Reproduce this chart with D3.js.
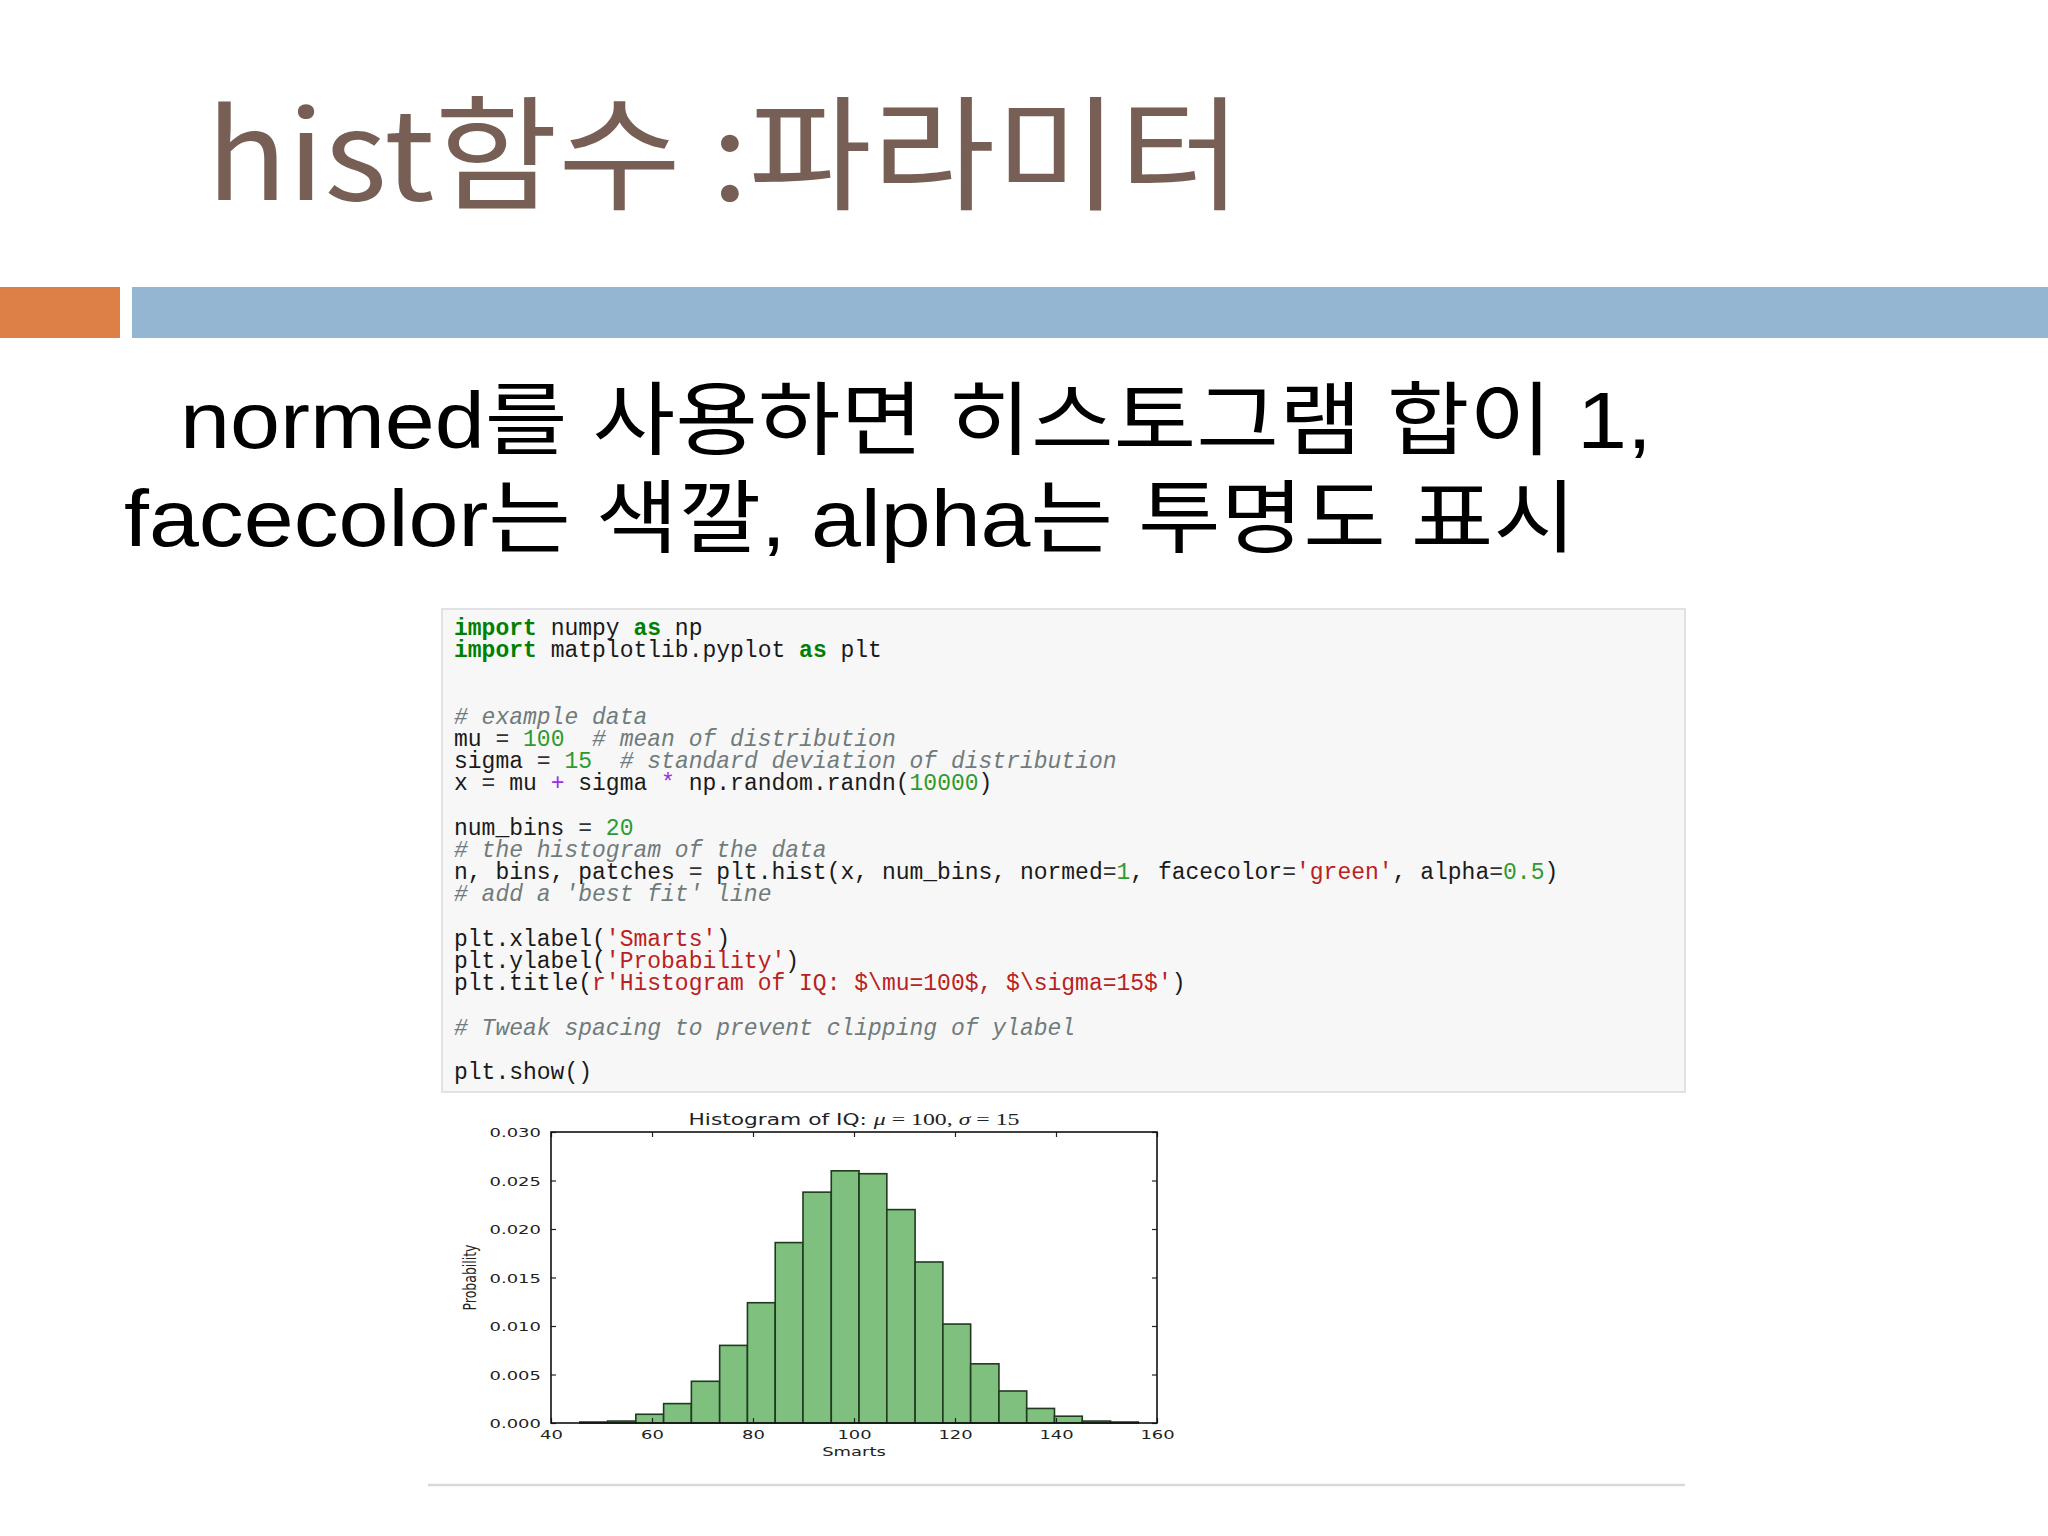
<!DOCTYPE html>
<html>
<head>
<meta charset="utf-8">
<script src="https://cdn.jsdelivr.net/npm/d3@7"></script>
<style>
  body { margin: 0; background: #ffffff; }
  svg { display: block; }
  .code text { font-family: "Liberation Mono", "DejaVu Sans Mono", monospace; font-size: 23px; white-space: pre; }
</style>
</head>
<body>
<div id="chart"></div>
<script>
// # Chart data.
const binEdges = [45.7, 51.2, 56.8, 62.3, 67.8, 73.4, 78.9, 84.4, 89.9, 95.5, 101.0,
                  106.5, 112.1, 117.6, 123.1, 128.7, 134.2, 139.7, 145.2, 150.8, 156.3]
const density  = [0.0001, 0.0002, 0.0009, 0.0020, 0.0043, 0.0080, 0.0124, 0.0186, 0.0238, 0.0260,
                  0.0257, 0.0220, 0.0166, 0.0102, 0.0061, 0.0033, 0.0015, 0.0007, 0.0002, 0.0001]
const xTicks = [40, 60, 80, 100, 120, 140, 160]
const yTicks = [0, 0.005, 0.010, 0.015, 0.020, 0.025, 0.030]
const xDomain = [40, 160]
const yDomain = [0, 0.030]

const slideTitle = 'hist함수 :파라미터'
const bodyLines = ['normed를 사용하면 히스토그램 합이 1,', 'facecolor는 색깔, alpha는 투명도 표시']

// # Code cell, as [text, token class] pieces.
const codeLines = [
    [['import', 'kw'], [' numpy ', ''], ['as', 'kw'], [' np', '']],
    [['import', 'kw'], [' matplotlib.pyplot ', ''], ['as', 'kw'], [' plt', '']],
    [],
    [],
    [['# example data', 'cm']],
    [['mu ', ''], ['=', 'eq'], [' ', ''], ['100', 'nu'], ['  ', ''], ['# mean of distribution', 'cm']],
    [['sigma ', ''], ['=', 'eq'], [' ', ''], ['15', 'nu'], ['  ', ''], ['# standard deviation of distribution', 'cm']],
    [['x ', ''], ['=', 'eq'], [' mu ', ''], ['+', 'op'], [' sigma ', ''], ['*', 'op'], [' np.random.randn(', ''], ['10000', 'nu'], [')', '']],
    [],
    [['num_bins ', ''], ['=', 'eq'], [' ', ''], ['20', 'nu']],
    [['# the histogram of the data', 'cm']],
    [['n, bins, patches ', ''], ['=', 'eq'], [' plt.hist(x, num_bins, normed', ''], ['=', 'eq'], ['1', 'nu'],
     [', facecolor', ''], ['=', 'eq'], ["'green'", 'st'], [', alpha', ''], ['=', 'eq'], ['0.5', 'nu'], [')', '']],
    [["# add a 'best fit' line", 'cm']],
    [],
    [['plt.xlabel(', ''], ["'Smarts'", 'st'], [')', '']],
    [['plt.ylabel(', ''], ["'Probability'", 'st'], [')', '']],
    [['plt.title(', ''], ["r'Histogram of IQ: $\\mu=100$, $\\sigma=15$'", 'st'], [')', '']],
    [],
    [['# Tweak spacing to prevent clipping of ylabel', 'cm']],
    [],
    [['plt.show()', '']]
]

const tokenStyle = {
    '':   {fill: '#1a1a1a'},
    kw:   {fill: '#008000', weight: 'bold'},
    nu:   {fill: '#2f9a2f'},
    st:   {fill: '#ba2121'},
    cm:   {fill: '#707b7b', style: 'italic'},
    op:   {fill: '#9a30e0'},
    eq:   {fill: '#333333'}
}

const W = 2048, H = 1536
const svg = d3.select('#chart')
    .append('svg')
    .attr('width', W)
    .attr('height', H)
svg.append('rect')
    .attr('width', W)
    .attr('height', H)
    .attr('fill', '#ffffff')

// # Slide title.
svg.append('text')
    .attr('x', 206)
    .attr('y', 200)
    .attr('textLength', 1036)
    .attr('lengthAdjust', 'spacingAndGlyphs')
    .attr('font-family', '"Noto Sans CJK KR", "Noto Sans", sans-serif')
    .attr('font-size', 124)
    .attr('fill', '#775f55')
    .text(slideTitle)

// # Accent bars.
svg.append('rect').attr('x', 0).attr('y', 287).attr('width', 120).attr('height', 51).attr('fill', '#dd8047')
svg.append('rect').attr('x', 132).attr('y', 287).attr('width', W - 132).attr('height', 51).attr('fill', '#94b6d2')

// # Body text: one paragraph, two lines.
const bodyPos = [{x: 180, y: 448, len: 1472}, {x: 124, y: 546, len: 1452}]
svg.append('text')
    .attr('class', 'body')
    .attr('font-family', '"Liberation Sans", "Noto Sans CJK KR", sans-serif')
    .attr('font-size', 80)
    .attr('fill', '#000000')
    .selectAll('tspan')
    .data(bodyLines)
    .enter().append('tspan')
    .attr('x', (d, i) => bodyPos[i].x)
    .attr('y', (d, i) => bodyPos[i].y)
    .attr('textLength', (d, i) => bodyPos[i].len)
    .attr('lengthAdjust', 'spacingAndGlyphs')
    .text(d => d)

// # Code cell.
const code = svg.append('g').attr('class', 'code')
code.append('rect')
    .attr('x', 442).attr('y', 609)
    .attr('width', 1243).attr('height', 483)
    .attr('fill', '#f7f7f8')
    .attr('stroke', '#e2e1e4')
    .attr('stroke-width', 2)
const lineY = d3.scaleLinear().domain([0, codeLines.length - 1]).range([635, 1079])
code.selectAll('text')
    .data(codeLines)
    .enter().append('text')
    .attr('x', 454)
    .attr('y', (d, i) => lineY(i))
    .selectAll('tspan')
    .data(d => d)
    .enter().append('tspan')
    .attr('fill', d => tokenStyle[d[1]].fill)
    .attr('font-weight', d => tokenStyle[d[1]].weight || 'normal')
    .attr('font-style', d => tokenStyle[d[1]].style || 'normal')
    .text(d => d[0])

// # Separator under the figure.
svg.append('line')
    .attr('x1', 428).attr('x2', 1685)
    .attr('y1', 1485).attr('y2', 1485)
    .attr('stroke', '#d9d9d9')
    .attr('stroke-width', 2.5)

// # Histogram (the picture is stretched sideways, so is its text).
const plot = {left: 551, right: 1157, top: 1132, bottom: 1423}
const sx = 1.38
const x = d3.scaleLinear().domain(xDomain).range([plot.left, plot.right])
const y = d3.scaleLinear().domain(yDomain).range([plot.bottom, plot.top])
const hist = svg.append('g').attr('class', 'hist')

hist.selectAll('rect.bar')
    .data(density)
    .enter().append('rect')
    .attr('class', 'bar')
    .attr('x', (d, i) => x(binEdges[i]))
    .attr('width', (d, i) => x(binEdges[i + 1]) - x(binEdges[i]))
    .attr('y', d => y(d))
    .attr('height', d => y(0) - y(d))
    .attr('fill', '#7fc07f')
    .attr('stroke', '#1f3a1f')
    .attr('stroke-width', 1.6)

const tickFont = 'DejaVu Sans, sans-serif'
const axB = hist.append('g')
    .attr('transform', `translate(0,${plot.bottom})`)
    .call(d3.axisBottom(x).tickValues(xTicks).tickSizeInner(-5).tickSizeOuter(0).tickPadding(7).tickFormat(d3.format('d')))
const axT = hist.append('g')
    .attr('transform', `translate(0,${plot.top})`)
    .call(d3.axisTop(x).tickValues(xTicks).tickSizeInner(-5).tickSizeOuter(0).tickFormat(''))
const axL = hist.append('g')
    .attr('transform', `translate(${plot.left},0)`)
    .call(d3.axisLeft(y).tickValues(yTicks).tickSizeInner(-5).tickSizeOuter(0).tickPadding(6).tickFormat(d3.format('.3f')))
const axR = hist.append('g')
    .attr('transform', `translate(${plot.right},0)`)
    .call(d3.axisRight(y).tickValues(yTicks).tickSizeInner(-5).tickSizeOuter(0).tickFormat(''))
;[axB, axT, axL, axR].forEach(a => {
    a.select('.domain').remove()
    a.selectAll('line').attr('stroke', '#222').attr('stroke-width', 1.2)
    a.selectAll('text')
        .attr('font-family', tickFont)
        .attr('font-size', 13)
        .attr('fill', '#222')
})
axB.selectAll('text').attr('transform', `scale(${sx},1)`)
axL.selectAll('text')
    .attr('transform', `scale(${sx},1)`)
    .attr('x', -6 / sx - 3)
    .attr('dy', '0.35em')

// # Frame.
hist.append('rect')
    .attr('x', plot.left).attr('y', plot.top)
    .attr('width', plot.right - plot.left).attr('height', plot.bottom - plot.top)
    .attr('fill', 'none')
    .attr('stroke', '#111')
    .attr('stroke-width', 1.6)

// # Title with math part.
const cx = (plot.left + plot.right) / 2
const title = hist.append('text')
    .attr('transform', `translate(${cx},1125) scale(1.36,1)`)
    .attr('text-anchor', 'middle')
    .attr('font-size', 16)
    .attr('fill', '#222')
title.append('tspan').attr('font-family', tickFont).text('Histogram of IQ: ')
const mathFont = '"Liberation Serif", "DejaVu Serif", serif'
title.append('tspan').attr('font-family', mathFont).attr('font-size', 17.5).attr('font-style', 'italic').text('μ')
title.append('tspan').attr('font-family', mathFont).attr('font-size', 17.5).text(' = 100, ')
title.append('tspan').attr('font-family', mathFont).attr('font-size', 17.5).attr('font-style', 'italic').text('σ')
title.append('tspan').attr('font-family', mathFont).attr('font-size', 17.5).text(' = 15')

// # Axis labels.
hist.append('text')
    .attr('transform', `translate(${cx},1456) scale(${sx},1)`)
    .attr('text-anchor', 'middle')
    .attr('font-family', tickFont)
    .attr('font-size', 13)
    .attr('fill', '#222')
    .text('Smarts')
hist.append('text')
    .attr('transform', `translate(476,${(plot.top + plot.bottom) / 2}) scale(${sx},1) rotate(-90)`)
    .attr('text-anchor', 'middle')
    .attr('font-family', tickFont)
    .attr('font-size', 12.5)
    .attr('fill', '#222')
    .text('Probability')
</script>
</body>
</html>
